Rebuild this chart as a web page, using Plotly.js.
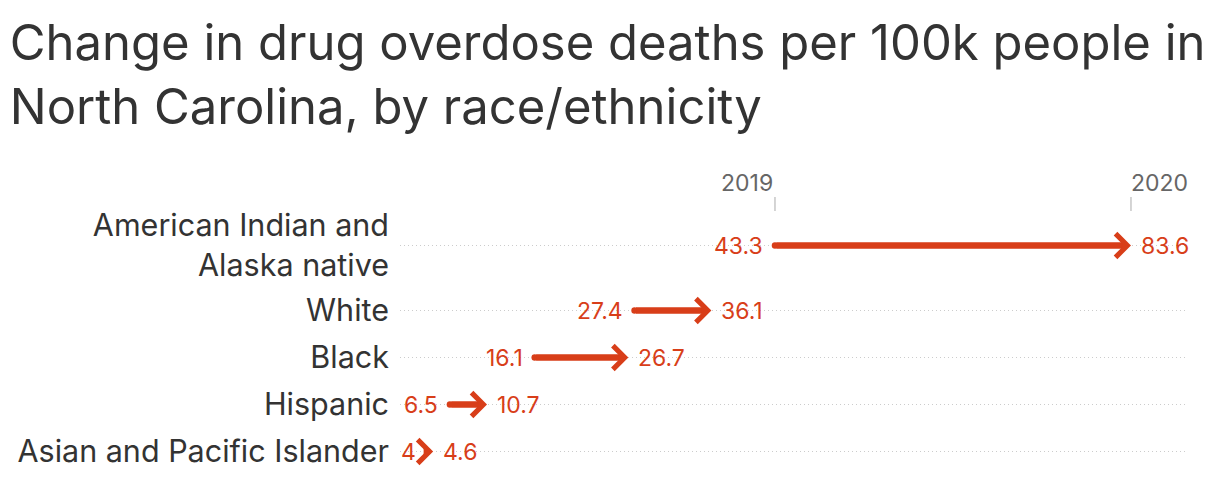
<!DOCTYPE html>
<html>
<head>
<meta charset="utf-8">
<script src="https://cdn.plot.ly/plotly-3.0.1.min.js"></script>
<style>
  html, body { margin: 0; padding: 0; background: #fff; }
  #chart { width: 1220px; height: 496px; }
</style>
</head>
<body>
<div id="chart"></div>
<script>
// ---- data ----
const categories = ['American Indian and<br>Alaska native', 'White', 'Black', 'Hispanic', 'Asian and Pacific Islander'];
const values2019 = [43.3, 27.4, 16.1, 6.5, 4];
const values2020 = [83.6, 36.1, 26.7, 10.7, 4.6];
const yearLabels = ['2019', '2020'];
const titleText = 'Change in drug overdose deaths per 100k people in<br>North Carolina, by race/ethnicity';

// ---- styling ----
const ARROW = '#d83e19';
const TEXT = '#333333';
const FONT = 'Inter, "Noto Sans", sans-serif';
const SHAFT_W = 6.5;
const HEAD_SIZE = 0.7;
const HEAD_BACKOFF = 1.6 * SHAFT_W * HEAD_SIZE; // px, arrowhead style 4

// row positions: multi-line labels get a taller row
const EXTRA_PER_LINE = 0.766;
const rowPos = [];
let cursor = 0;
categories.forEach(function (c) {
  const lines = c.split('<br>').length;
  const h = 1 + EXTRA_PER_LINE * (lines - 1);
  rowPos.push(cursor + h / 2);
  cursor += h;
});
const yTotal = cursor;

// round start cap of each arrow
const traces = [{
  type: 'scatter',
  mode: 'markers',
  x: values2019,
  y: rowPos,
  marker: { size: SHAFT_W, color: ARROW },
  hoverinfo: 'skip',
  showlegend: false
}];

const annotations = [];
const shapes = [];
categories.forEach(function (c, i) {
  // shaft: from 2019 to 2020 value, stopping where the head begins
  annotations.push({
    x: values2020[i], y: rowPos[i], ax: values2019[i], ay: rowPos[i],
    xref: 'x', yref: 'y', axref: 'x', ayref: 'y',
    text: '', showarrow: true, arrowhead: 0, arrowwidth: SHAFT_W,
    standoff: HEAD_BACKOFF, arrowcolor: ARROW
  });
  // head: always drawn at the 2020 value
  annotations.push({
    x: values2020[i], y: rowPos[i], ax: -11, ay: 0,
    xref: 'x', yref: 'y', axref: 'pixel', ayref: 'pixel',
    text: '', showarrow: true, arrowhead: 4, arrowsize: HEAD_SIZE, arrowwidth: SHAFT_W,
    arrowcolor: ARROW
  });
  annotations.push({
    x: values2019[i], y: rowPos[i], xref: 'x', yref: 'y',
    text: String(values2019[i]), showarrow: false, xanchor: 'right', xshift: -10,
    font: { family: FONT, size: 23, color: ARROW }
  });
  annotations.push({
    x: values2020[i], y: rowPos[i], xref: 'x', yref: 'y',
    text: String(values2020[i]), showarrow: false, xanchor: 'left', xshift: 8,
    font: { family: FONT, size: 23, color: ARROW }
  });
});

// year headers over the first row
[values2019[0], values2020[0]].forEach(function (v, k) {
  annotations.push({
    x: v, y: 1, xref: 'x', yref: 'paper', yanchor: 'middle', yshift: 21,
    text: yearLabels[k], showarrow: false, xanchor: k === 0 ? 'right' : 'left',
    xshift: k === 0 ? 0 : -2,
    font: { family: FONT, size: 23, color: '#666666' }
  });
  shapes.push({
    type: 'line', xref: 'x', x0: v, x1: v,
    yref: 'paper', ysizemode: 'pixel', yanchor: 1, y0: -7, y1: 7,
    line: { color: '#aaaaaa', width: 1 }
  });
});

const layout = {
  width: 1220, height: 496,
  margin: { l: 400, r: 33, t: 204, b: 21 },
  paper_bgcolor: '#ffffff', plot_bgcolor: '#ffffff',
  title: {
    text: titleText,
    font: { family: FONT, size: 49, color: TEXT },
    x: 0.008, xanchor: 'left', xref: 'container',
    y: 0.879, yanchor: 'top', yref: 'container'
  },
  xaxis: { range: [0.85, 89.94], visible: false, fixedrange: true },
  yaxis: {
    range: [yTotal, 0], tickmode: 'array', tickvals: rowPos, ticktext: categories,
    showgrid: true, gridcolor: '#cccccc', gridwidth: 1, griddash: '1px,3px',
    zeroline: false, showline: false, ticks: '', ticklabelstandoff: 10,
    tickfont: { family: FONT, size: 30.5, color: TEXT }, fixedrange: true
  },
  annotations: annotations,
  shapes: shapes,
  showlegend: false
};

Plotly.newPlot('chart', traces, layout, { displayModeBar: false, staticPlot: true });
</script>
</body>
</html>
